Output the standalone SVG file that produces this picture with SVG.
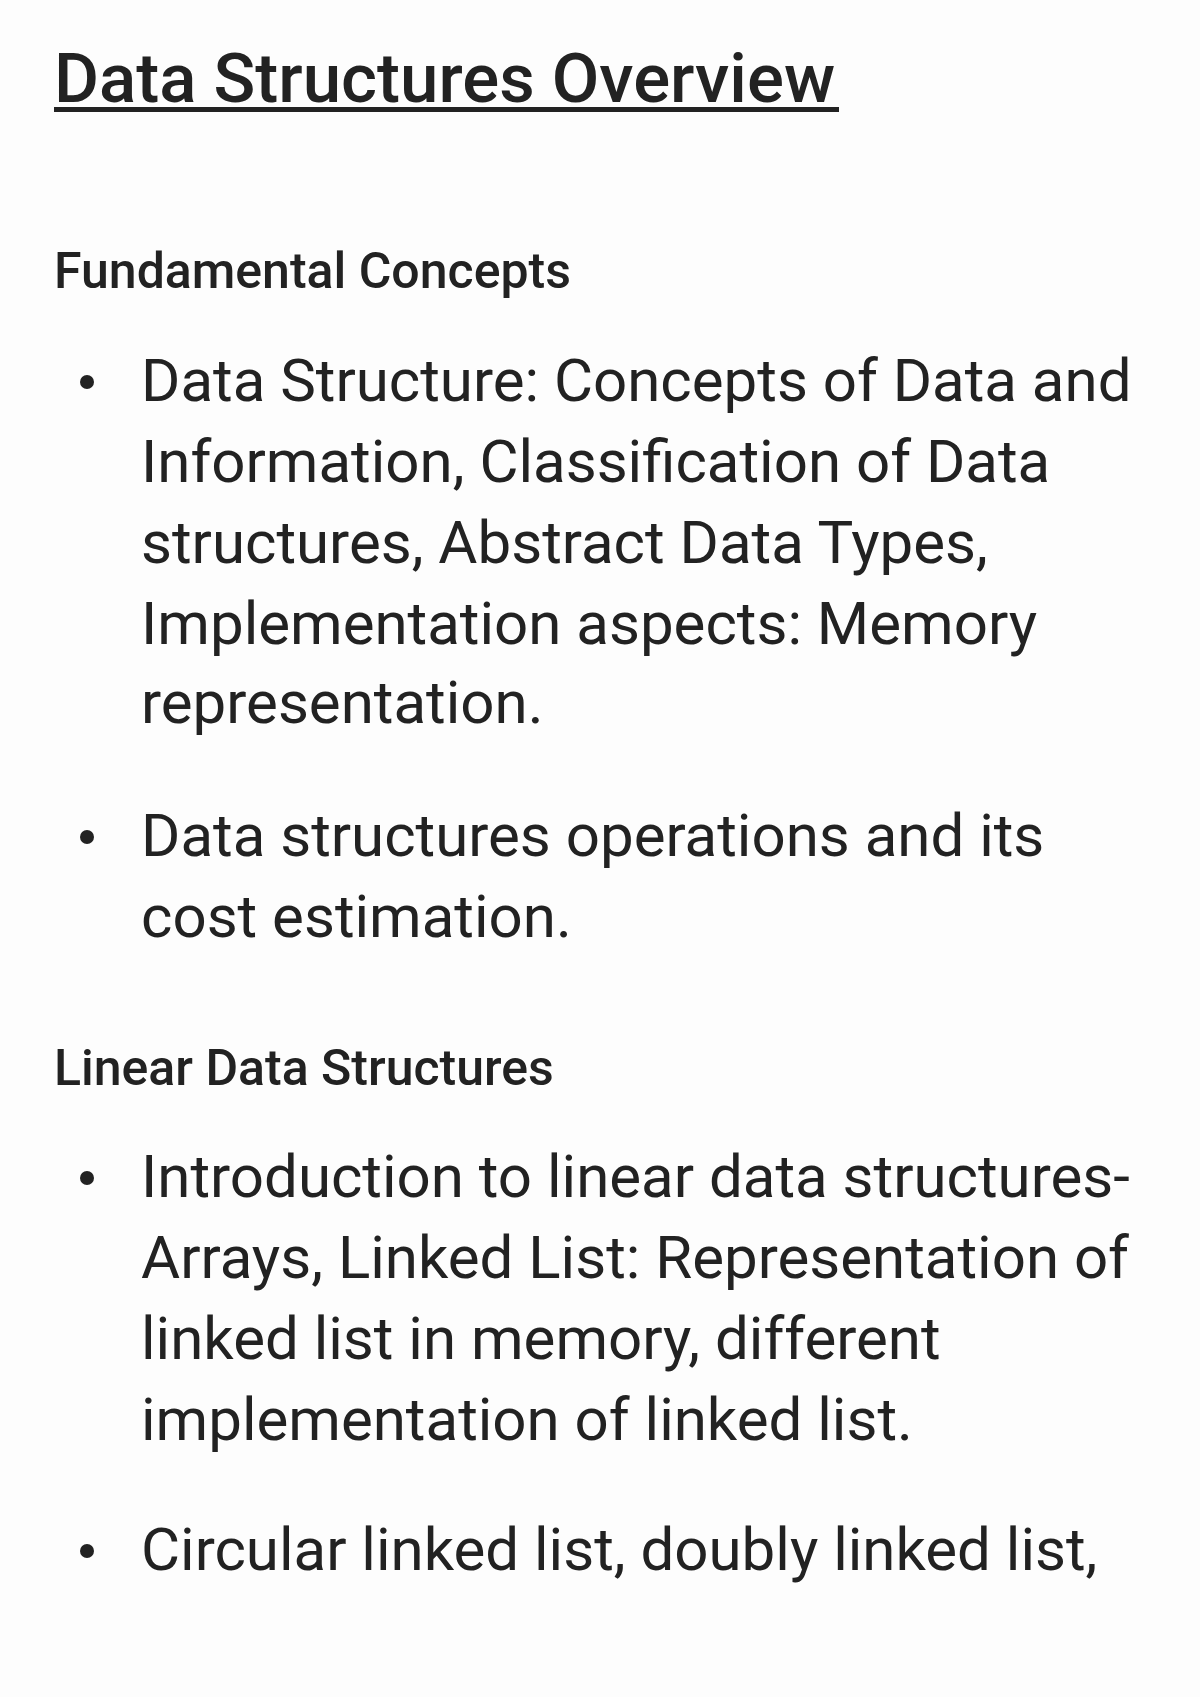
<svg xmlns="http://www.w3.org/2000/svg" width="1200" height="1697" viewBox="0 0 1200 1697">
<style>
text{font-family:Roboto,"Noto Sans",sans-serif;fill:#222}
.t{font-size:69px;font-weight:500}
.h{font-size:50px;font-weight:500}
.b{font-size:60px}
circle{fill:#222}
</style>
<rect width="1200" height="1697" fill="#fdfdfd"/>
<g id="title"><text class="t" x="54" y="102">Data Structures Overview</text><rect x="54" y="107" width="785" height="5" fill="#222"/></g>
<g id="fundamental">
<text class="h" x="54" y="288">Fundamental Concepts</text>
<circle cx="87" cy="382" r="7"/>
<text class="b" x="141" y="401">Data Structure: Concepts of Data and</text>
<text class="b" x="141" y="482">Information, Classification of Data</text>
<text class="b" x="141" y="563">structures, Abstract Data Types,</text>
<text class="b" x="141" y="644">Implementation aspects: Memory</text>
<text class="b" x="141" y="723">representation.</text>
<circle cx="87" cy="837" r="7"/>
<text class="b" x="141" y="856">Data structures operations and its</text>
<text class="b" x="141" y="937">cost estimation.</text>
</g>
<g id="linear">
<text class="h" x="54" y="1085">Linear Data Structures</text>
<circle cx="87" cy="1178" r="7"/>
<text class="b" x="141" y="1197">Introduction to linear data structures-</text>
<text class="b" x="141" y="1278">Arrays, Linked List: Representation of</text>
<text class="b" x="141" y="1359">linked list in memory, different</text>
<text class="b" x="141" y="1440">implementation of linked list.</text>
<circle cx="87" cy="1551" r="7"/>
<text class="b" x="141" y="1570">Circular linked list, doubly linked list,</text>
</g>
</svg>
